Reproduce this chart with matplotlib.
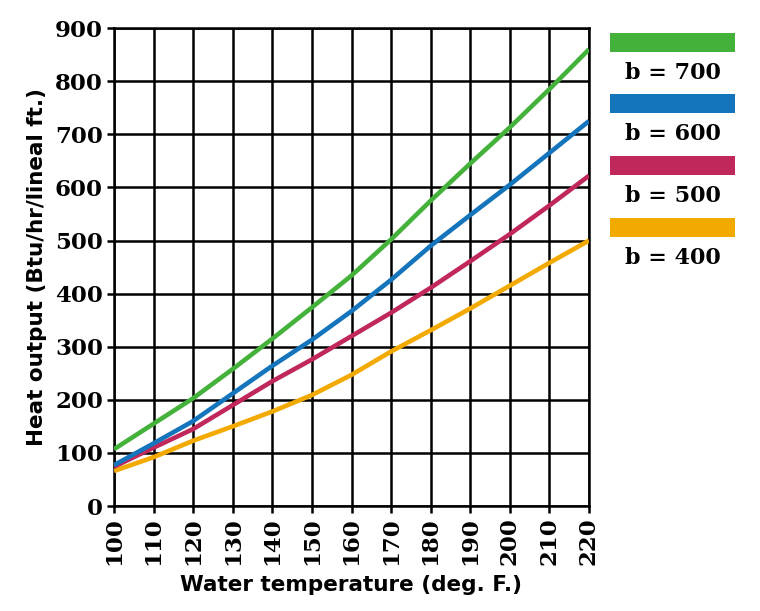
import numpy as np
import matplotlib
matplotlib.use("Agg")
import matplotlib.pyplot as plt
from matplotlib.patches import Rectangle

# valeurs
temps = [100, 110, 120, 130, 140, 150, 160, 170, 180, 190, 200, 210, 220]
b700 = [107, 155, 203, 258, 315, 374, 434, 502, 575, 645, 713, 785, 860]
b600 = [77, 118, 160, 212, 264, 313, 367, 426, 490, 548, 605, 665, 725]
b500 = [74, 110, 145, 190, 235, 276, 320, 364, 411, 461, 512, 566, 622]
b400 = [66, 92, 123, 150, 178, 209, 247, 291, 331, 372, 415, 458, 500]

labels = ["b = 700", "b = 600", "b = 500", "b = 400"]
colors = ["#44b23a", "#1474bc", "#c0275a", "#f2a900"]
series = [b700, b600, b500, b400]

x_ticks = list(range(100, 221, 10))
y_ticks = list(range(0, 901, 100))

fig = plt.figure(figsize=(7.6, 6.11), dpi=100)
ax = fig.add_axes([0.15, 0.1718, 0.625, 0.7822])

for vals, c in zip(series[::-1], colors[::-1]):
    ax.plot(temps, vals, color=c, lw=3.3, solid_capstyle="butt", zorder=3)

ax.set_xlim(100, 220)
ax.set_ylim(0, 900)
ax.set_xticks(x_ticks)
ax.set_yticks(y_ticks)
ax.grid(True, color="black", lw=1.8, zorder=1)
for s in ax.spines.values():
    s.set_linewidth(1.8)
ax.tick_params(length=5, width=1.8, color="black", pad=3)

tick_font = dict(family="DejaVu Serif", weight="bold", size=16.5)
ax.set_xticklabels([str(t) for t in x_ticks], rotation=90, **tick_font)
ax.set_yticklabels([str(t) for t in y_ticks], **tick_font)

label_font = dict(family="DejaVu Sans", weight="bold", size=15.5)
ax.set_xlabel("Water temperature (deg. F.)", labelpad=7, **label_font)
ax.set_ylabel("Heat output (Btu/hr/lineal ft.)", labelpad=6, **label_font)

# légende faite à la main à droite
legend_font = dict(family="DejaVu Serif", weight="bold", size=16)
bar_tops = [33, 94, 156, 218]
for lab, c, top in zip(labels, colors, bar_tops):
    y0 = 1 - (top + 19) / 611
    fig.add_artist(Rectangle((610 / 760, y0), 125 / 760, 19 / 611,
                             transform=fig.transFigure, color=c, lw=0))
    fig.text(673 / 760, 1 - (top + 40) / 611, lab, ha="center", va="center",
             **legend_font)

fig.savefig("out.png", dpi=100)
